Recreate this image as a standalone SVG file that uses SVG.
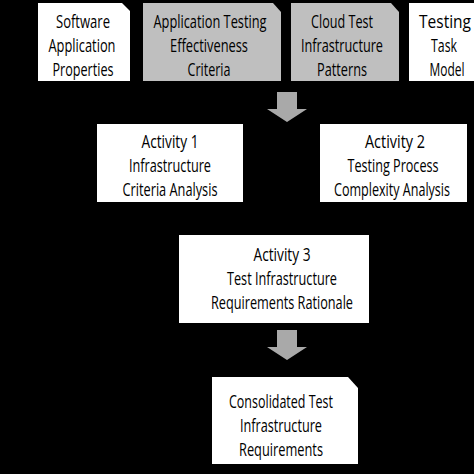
<svg xmlns="http://www.w3.org/2000/svg" width="474" height="474" viewBox="0 0 474 474">
<style>
.w{fill:#ffffff}
.g{fill:#bfbfbf}
.ar{fill:#a9a9a9}
text{font-family:"Open Sans",Lato,"Liberation Sans",sans-serif;font-size:17.5px;fill:#000;text-anchor:middle}
</style>
<rect x="0" y="0" width="474" height="474" fill="#000"/>
<g id="connectors">
<polygon class="ar" points="277,92 297,92 297,109 307,109 287,122 267,109 277,109"/>
<polygon class="ar" points="277,330 297,330 297,347 307,347 287,360 267,347 277,347"/>
</g>
<g id="node-software">
<path class="w" d="M38,3 H122 L130,11 V81 H38 Z"/>
<text x="83" y="28" textLength="54" lengthAdjust="spacingAndGlyphs">Software</text>
<text x="82" y="52" textLength="67" lengthAdjust="spacingAndGlyphs">Application</text>
<text x="83" y="76" textLength="61" lengthAdjust="spacingAndGlyphs">Properties</text>
</g>
<g id="node-criteria">
<path class="g" d="M143,3 H273 L281,12 V81 H143 Z"/>
<text x="210" y="28" textLength="113" lengthAdjust="spacingAndGlyphs">Application Testing</text>
<text x="209" y="52" textLength="78" lengthAdjust="spacingAndGlyphs">Effectiveness</text>
<text x="209" y="76" textLength="43" lengthAdjust="spacingAndGlyphs">Criteria</text>
</g>
<g id="node-patterns">
<path class="g" d="M291,3 H391 L399,12 V81 H291 Z"/>
<text x="342" y="28" textLength="62" lengthAdjust="spacingAndGlyphs">Cloud Test</text>
<text x="342" y="52" textLength="82" lengthAdjust="spacingAndGlyphs">Infrastructure</text>
<text x="342" y="76" textLength="50" lengthAdjust="spacingAndGlyphs">Patterns</text>
</g>
<g id="node-taskmodel">
<rect class="w" x="409" y="3" width="70" height="78"/>
<text x="445" y="28" textLength="52" lengthAdjust="spacingAndGlyphs">Testing</text>
<text x="444" y="52" textLength="26" lengthAdjust="spacingAndGlyphs">Task</text>
<text x="447" y="76" textLength="35" lengthAdjust="spacingAndGlyphs">Model</text>
</g>
<g id="node-activity1">
<rect class="w" x="97" y="124" width="146" height="78"/>
<text x="170" y="148" textLength="57" lengthAdjust="spacingAndGlyphs">Activity 1</text>
<text x="170" y="172" textLength="82" lengthAdjust="spacingAndGlyphs">Infrastructure</text>
<text x="170" y="196" textLength="95" lengthAdjust="spacingAndGlyphs">Criteria Analysis</text>
</g>
<g id="node-activity2">
<rect class="w" x="320" y="124" width="147" height="78"/>
<text x="395" y="148" textLength="60" lengthAdjust="spacingAndGlyphs">Activity 2</text>
<text x="393" y="172" textLength="91" lengthAdjust="spacingAndGlyphs">Testing Process</text>
<text x="392" y="196" textLength="116" lengthAdjust="spacingAndGlyphs">Complexity Analysis</text>
</g>
<g id="node-activity3">
<rect class="w" x="179" y="235" width="190" height="88"/>
<text x="282" y="261" textLength="57" lengthAdjust="spacingAndGlyphs">Activity 3</text>
<text x="282" y="285" textLength="110" lengthAdjust="spacingAndGlyphs">Test Infrastructure</text>
<text x="282" y="309" textLength="142" lengthAdjust="spacingAndGlyphs">Requirements Rationale</text>
</g>
<g id="node-consolidated">
<path class="w" d="M212,377 H348 L358,388 V464 H212 Z"/>
<text x="281" y="408" textLength="104" lengthAdjust="spacingAndGlyphs">Consolidated Test</text>
<text x="281" y="432" textLength="82" lengthAdjust="spacingAndGlyphs">Infrastructure</text>
<text x="281" y="456" textLength="84" lengthAdjust="spacingAndGlyphs">Requirements</text>
</g>
</svg>
